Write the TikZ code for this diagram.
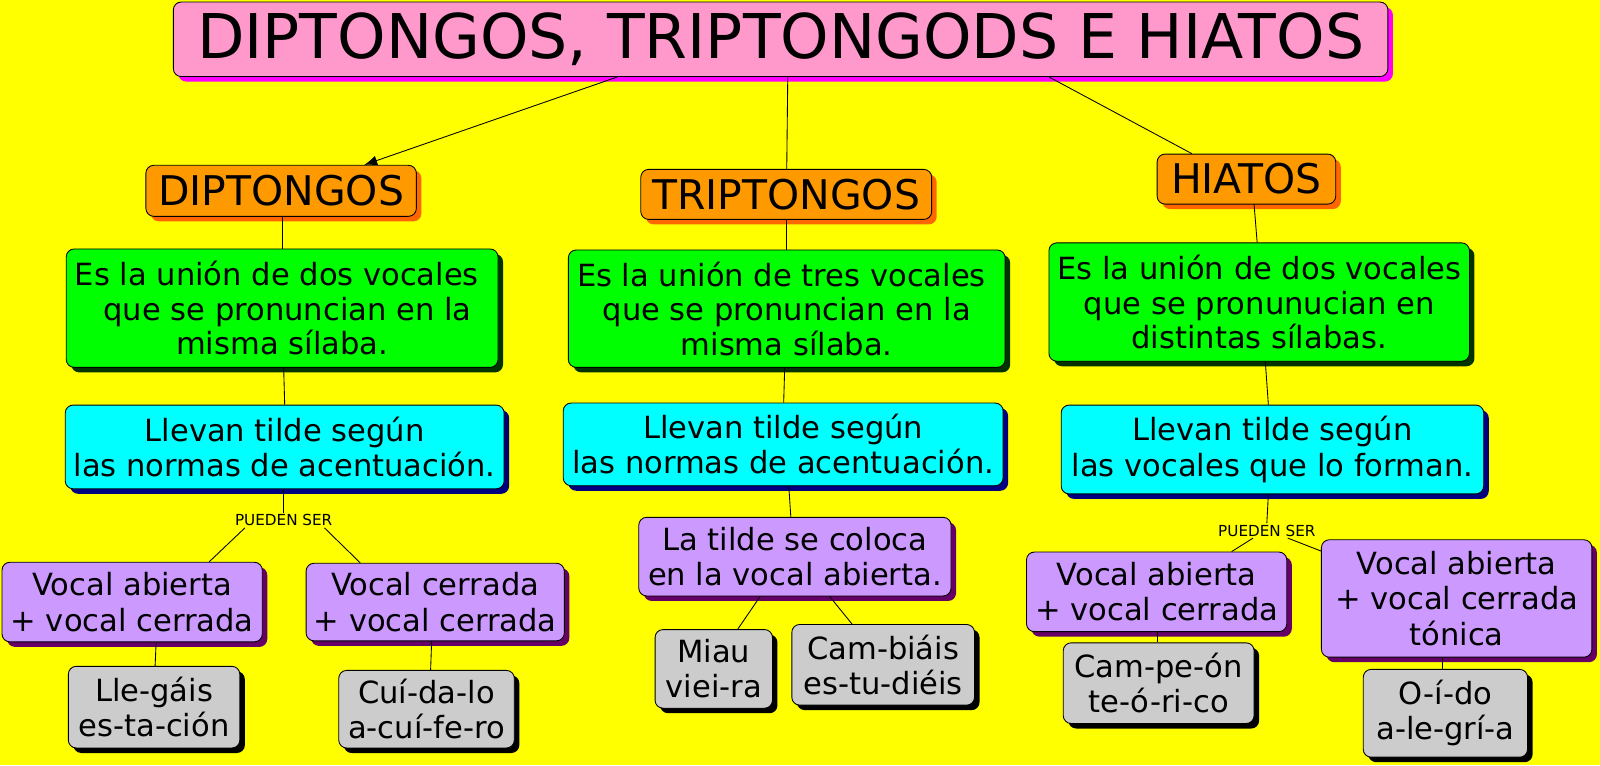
\documentclass[tikz,border=0pt]{standalone}
\usepackage{fontspec}
\setmainfont{DejaVu Sans}
\usetikzlibrary{shadows,arrows.meta}
\definecolor{bgyellow}{HTML}{FFFF00}
\definecolor{titlefill}{HTML}{FF99CC}
\definecolor{titleshadow}{HTML}{FF00FF}
\definecolor{orangefill}{HTML}{FF9900}
\definecolor{orangeshadow}{HTML}{FF6600}
\definecolor{greenfill}{HTML}{00FF00}
\definecolor{greenshadow}{HTML}{003300}
\definecolor{cyanfill}{HTML}{00FFFF}
\definecolor{cyanshadow}{HTML}{000080}
\definecolor{purplefill}{HTML}{CC99FF}
\definecolor{purpleshadow}{HTML}{660066}
\definecolor{grayfill}{HTML}{CCCCCC}
\definecolor{grayshadow}{HTML}{000000}
\tikzset{
  sz/.style 2 args={minimum width=#1*0.7113pt, minimum height=#2*0.7113pt},
  box/.style={draw=black, line width=0.6pt, rounded corners=5.5pt, inner sep=0pt, align=center, text=black},
  titlebox/.style={box, fill=titlefill, general shadow={fill=titleshadow, shadow xshift=3.5pt, shadow yshift=-3.5pt}, font=\fontsize{43}{48}\selectfont},
  orangebox/.style={box, fill=orangefill, general shadow={fill=orangeshadow, shadow xshift=3.5pt, shadow yshift=-3.5pt}, font=\fontsize{28.5}{32}\selectfont},
  greenbox/.style={box, fill=greenfill, general shadow={fill=greenshadow, shadow xshift=3.5pt, shadow yshift=-3.5pt}, font=\fontsize{21.3}{24}\selectfont},
  cyanbox/.style={box, fill=cyanfill, general shadow={fill=cyanshadow, shadow xshift=3.5pt, shadow yshift=-3.5pt}, font=\fontsize{21.3}{24.5}\selectfont},
  purplebox/.style={box, fill=purplefill, general shadow={fill=purpleshadow, shadow xshift=3.5pt, shadow yshift=-3.5pt}, font=\fontsize{21.3}{24.5}\selectfont},
  graybox/.style={box, fill=grayfill, general shadow={fill=grayshadow, shadow xshift=3.5pt, shadow yshift=-3.5pt}, font=\fontsize{21.3}{24.5}\selectfont},
  smalllabel/.style={inner sep=1pt, text=black, font=\fontsize{10.6}{12}\selectfont},
  link/.style={draw=black, line width=0.6pt},
}
\begin{document}
\begin{tikzpicture}[x=0.025cm,y=-0.025cm]
\fill[bgyellow] (0,0) rectangle (1568,749.7);
\useasboundingbox (0,0) rectangle (1568,749.7);

% title
\node[titlebox, sz={1190}{73}] (title) at (765,38.5) {DIPTONGOS, TRIPTONGODS E HIATOS};

% level 1
\node[orangebox, sz={265}{50}] (dip) at (275.5,187) {DIPTONGOS};
\node[orangebox, sz={285}{49}] (trip) at (770.5,190.5) {TRIPTONGOS};
\node[orangebox, sz={175}{49}] (hia) at (1221.5,175.5) {HIATOS};

% level 2
\node[greenbox, sz={423}{116}] (g1) at (276.5,302) {Es la unión de dos vocales\hspace*{0.35em}\\\hspace*{0.35em}que se pronuncian en la\\misma sílaba.};
\node[greenbox, sz={428}{115}] (g2) at (771,302.5) {Es la unión de tres vocales\hspace*{0.35em}\\que se pronuncian en la\\misma sílaba.};
\node[greenbox, sz={412}{116}] (g3) at (1234,296) {Es la unión de dos vocales\\que se pronunucian en\\distintas sílabas.};

% level 3
\node[cyanbox, sz={430}{82}] (c1) at (279,438) {Llevan tilde según\\las normas de acentuación.};
\node[cyanbox, sz={431}{81}] (c2) at (767.5,435.5) {Llevan tilde según\\las normas de acentuación.};
\node[cyanbox, sz={414}{87}] (c3) at (1247,440.5) {Llevan tilde según\\las vocales que lo forman.};

% labels
\node[smalllabel] (pl) at (278,510) {PUEDEN SER};
\node[smalllabel] (pr) at (1241.5,520) {PUEDEN SER};

% level 4
\node[purplebox, sz={255}{78}] (p1) at (129.5,590) {Vocal abierta\\+ vocal cerrada};
\node[purplebox, sz={253}{76}] (p2) at (426.5,590) {Vocal cerrada\\+ vocal cerrada};
\node[purplebox, sz={306}{77}] (pm) at (779,545.5) {La tilde se coloca\\en la vocal abierta.};
\node[purplebox, sz={255}{78}] (pr1) at (1133.5,580) {Vocal abierta\\+ vocal cerrada};
\node[purplebox, sz={265}{115}] (pr2) at (1427.5,586.5) {Vocal abierta\\+ vocal cerrada\\tónica};

% level 5
\node[graybox, sz={168}{80}] (gl1) at (151,693) {Lle-gáis\\es-ta-ción};
\node[graybox, sz={172}{76}] (gl2) at (418,695) {Cuí-da-lo\\a-cuí-fe-ro};
\node[graybox, sz={115}{77}] (gm1) at (699.5,655.5) {Miau\\viei-ra};
\node[graybox, sz={179}{79}] (gm2) at (865.5,651.5) {Cam-biáis\\es-tu-diéis};
\node[graybox, sz={187}{79}] (gr1) at (1135.5,669.5) {Cam-pe-ón\\te-ó-ri-co};
\node[graybox, sz={161}{86}] (gr2) at (1416.5,699) {O-í-do\\a-le-grí-a};

% connectors
\draw[link, -{Latex[length=9pt,width=7pt]}] (605,0 |- title.south) -- (357,0 |- dip.north);
\draw[link] (772,0 |- title.south) -- (771,0 |- trip.north);
\draw[link] (1028,0 |- title.south) -- (1168,0 |- hia.north);

\draw[link] (277,0 |- dip.south) -- (277,0 |- g1.north);
\draw[link] (278,0 |- g1.south) -- (279,0 |- c1.north);
\draw[link] (278,0 |- c1.south) -- (pl.north);
\draw[link] (240,0 |- pl.south) -- (205,0 |- p1.north);
\draw[link] (318,0 |- pl.south) -- (353,0 |- p2.north);
\draw[link] (153,0 |- p1.south) -- (152,0 |- gl1.north);
\draw[link] (423,0 |- p2.south) -- (422,0 |- gl2.north);

\draw[link] (771,0 |- trip.south) -- (771,0 |- g2.north);
\draw[link] (769,0 |- g2.south) -- (768,0 |- c2.north);
\draw[link] (773,0 |- c2.south) -- (775,0 |- pm.north);
\draw[link] (745,0 |- pm.south) -- (723,0 |- gm1.north);
\draw[link] (813,0 |- pm.south) -- (835,0 |- gm2.north);

\draw[link] (1229,0 |- hia.south) -- (1232,0 |- g3.north);
\draw[link] (1240,0 |- g3.south) -- (1243,0 |- c3.north);
\draw[link] (1243,0 |- c3.south) -- (pr.north);
\draw[link] (1228,0 |- pr.south) -- (1207,0 |- pr1.north);
\draw[link] (1262,0 |- pr.south) -- (pr2.west |- 0,540);
\draw[link] (1134,0 |- pr1.south) -- (1134,0 |- gr1.north);
\draw[link] (1414,0 |- pr2.south) -- (1414,0 |- gr2.north);
\end{tikzpicture}
\end{document}
